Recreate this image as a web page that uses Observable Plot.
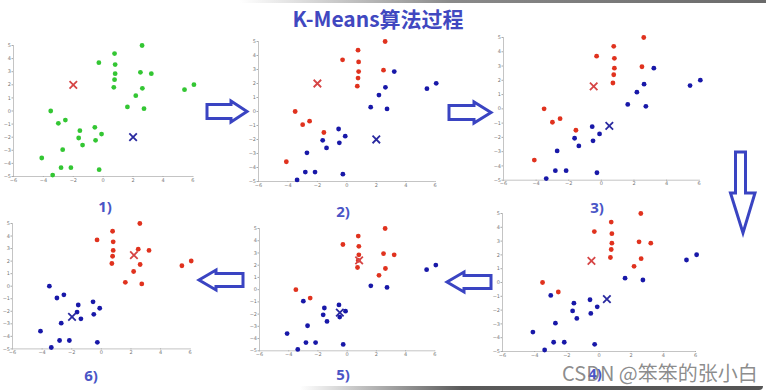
<!DOCTYPE html>
<html><head><meta charset="utf-8">
<script src="https://cdn.jsdelivr.net/npm/d3@7"></script>
<script src="https://cdn.jsdelivr.net/npm/@observablehq/plot@0.6"></script>
<style>
body{margin:0;background:#fff;}
#root{position:relative;width:766px;height:390px;overflow:hidden;background:#fff;}
.panel{position:absolute;}
.lbl{position:absolute;font:bold 15px "Noto Sans","Noto Sans CJK SC",sans-serif;color:#4a55c6;transform:translate(-50%,-50%);line-height:1;}
#title{position:absolute;left:0;width:756px;top:6px;text-align:center;font:bold 21px "Noto Sans CJK SC","Noto Sans",sans-serif;color:#4148c0;line-height:24px;}
#wm{position:absolute;left:562px;top:363px;font:20px "Noto Sans CJK SC","Noto Sans",sans-serif;color:rgba(120,120,120,0.85);white-space:nowrap;line-height:20px;}
#topband{position:absolute;left:240px;top:0;width:526px;height:3px;background:linear-gradient(to right,rgba(120,120,120,0),#8a8a8a 40%,#6a6a6a);}
#botband{position:absolute;left:300px;top:386px;width:463px;height:4px;background:linear-gradient(to right,rgba(90,90,90,0),#5a5a5a 35%,#555);border-bottom-right-radius:6px;}
</style>
</head><body>
<div id="root">
  <div id="topband"></div>
  <div id="title">K-Means算法过程</div>
</div>
<script>
// ---- data ----
const px = [2.6, 0.76, -0.29, 0.8, 0.8, 2.49, 3.22, 0.76, 0.71, 2.62, 5.44, 6.07, 2.18, 1.62, 2.73,
            -3.51, -2.53, -3.0, -0.56, -1.56, -0.11, -1.64, -0.51, -1.38, -2.71, -4.11, -2.82, -2.16, -0.27, -3.38];
const py = [5.0, 4.38, 3.69, 3.54, 2.85, 2.95, 2.85, 2.39, 1.81, 1.73, 1.63, 2.01, 1.17, 0.31, 0.18,
            0.0, -0.69, -0.94, -1.25, -1.5, -1.76, -2.06, -2.24, -2.6, -2.95, -3.59, -4.33, -4.33, -4.48, -4.89];
const panelLabels = ["1)", "2)", "3)", "4)", "5)", "6)"];
const panelAssign = [
  "gggggggggggggggggggggggggggggg",
  "rrrrrrbrrbbbbbbrrrbrbbbbbrbbbb",
  "rrrrrrbrrbbbbbbrrrbrbbbbbrbbbb",
  "rrrrrrrrrrbbrbbrrbbbbbbbbbbbbb",
  "rrrrrrrrrrbbrbbrrbbbbbbbbbbbbb",
  "rrrrrrrrrrrrrrrbbbbbbbbbbbbbbb"
];
const redCx = [-2, -2, -0.47, -0.47, 0.82, 2.2];
const redCy = [2, 2, 1.57, 1.57, 2.4, 2.47];
const blueCx = [2, 2, 0.49, 0.49, -0.5, -1.98];
const blueCy = [-2, -2, -1.2, -1.2, -1.88, -2.45];
const xTicks = [-6, -4, -2, 0, 2, 4, 6];
const yTicks = [-5, -4, -3, -2, -1, 0, 1, 2, 3, 4, 5];

// ---- layout (plot frame in page px: left, top, right, bottom) ----
const frames = [
  [13.3, 45, 192.7, 176],
  [258.3, 41, 435, 181],
  [503.3, 37.3, 699, 180],
  [502, 212.7, 695, 350.7],
  [259, 227.7, 434.3, 350],
  [12, 223.3, 189.7, 348.7]
];
const labelPos = [[105, 206], [343, 211], [597, 207], [595, 373], [343, 374], [91, 375]];
const colorDomain = ["g", "r", "b"];
const colorRange = ["#33c633", "#e0321e", "#1818a8"];

const root = document.getElementById("root");
const mL = 14, mR = 4, mT = 4, mB = 9;

panelLabels.forEach((lab, i) => {
  const [L, T, R, B] = frames[i];
  const pts = px.map((x, k) => ({x, y: py[k], c: panelAssign[i][k]}));
  const chart = Plot.plot({
    width: (R - L) + mL + mR,
    height: (B - T) + mT + mB,
    marginLeft: mL, marginRight: mR, marginTop: mT, marginBottom: mB,
    x: {domain: [-6, 6]},
    y: {domain: [-5, 5]},
    color: {domain: colorDomain, range: colorRange},
    style: {background: "transparent", fontFamily: "DejaVu Sans", fontSize: "5px", overflow: "visible"},
    marks: [
      Plot.ruleY([-5], {stroke: "#c4c4c4"}),
      Plot.ruleX([-6], {stroke: "#c4c4c4"}),
      Plot.axisX({ticks: xTicks, tickSize: 1, tickPadding: 0.5, fontSize: 5, fill: "#777", stroke: "#aaa", label: null}),
      Plot.axisY({ticks: yTicks, tickSize: 1.5, tickPadding: 1, fontSize: 5, fill: "#777", stroke: "#aaa", label: null}),
      Plot.dot(pts, {x: "x", y: "y", r: 2.4, fill: "c", stroke: null}),
      Plot.dot([{x: redCx[i], y: redCy[i]}], {x: "x", y: "y", symbol: "times", r: 3.5, stroke: "#d64545", strokeWidth: 1.8}),
      Plot.dot([{x: blueCx[i], y: blueCy[i]}], {x: "x", y: "y", symbol: "times", r: 3.5, stroke: "#2a2aa0", strokeWidth: 1.8})
    ]
  });
  chart.classList.add("panel");
  chart.style.left = (L - mL) + "px";
  chart.style.top = (T - mT) + "px";
  root.appendChild(chart);

  const d = document.createElement("div");
  d.className = "lbl";
  d.textContent = lab;
  d.style.left = labelPos[i][0] + "px";
  d.style.top = labelPos[i][1] + "px";
  root.appendChild(d);
});

// ---- arrows (decoration) ----
const ns = "http://www.w3.org/2000/svg";
const ov = document.createElementNS(ns, "svg");
ov.setAttribute("width", 766); ov.setAttribute("height", 390);
ov.style.position = "absolute"; ov.style.left = "0"; ov.style.top = "0";
const arrows = [
  "207,104.5 231,104.5 231,101 247,111.5 231,122 231,118.5 207,118.5",
  "449,105.5 474,105.5 474,102 491,112.5 474,123 474,119.5 449,119.5",
  "735.5,152 745.5,152 745.5,193 755,193 743,233 730.5,193 735.5,193",
  "243,273.5 216,273.5 216,270 199,280 216,290 216,286.5 243,286.5",
  "491,275.5 464,275.5 464,272 447,282 464,292 464,288.5 491,288.5"
];
arrows.forEach(p => {
  const pg = document.createElementNS(ns, "polygon");
  pg.setAttribute("points", p);
  pg.setAttribute("fill", "#fff");
  pg.setAttribute("stroke", "#3a44c2");
  pg.setAttribute("stroke-width", "3");
  pg.setAttribute("stroke-linejoin", "miter");
  ov.appendChild(pg);
});
root.appendChild(ov);

const wm = document.createElement("div");
wm.id = "wm"; wm.textContent = "CSDN @笨笨的张小白";
root.appendChild(wm);
const bb = document.createElement("div");
bb.id = "botband";
root.appendChild(bb);
</script>
</body></html>
